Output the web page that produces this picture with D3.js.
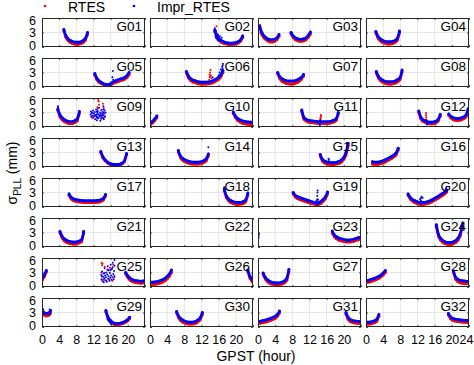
<!DOCTYPE html>
<html><head><meta charset="utf-8">
<script src="https://cdn.jsdelivr.net/npm/d3@7"></script>
<style>body{margin:0;background:#fff} text{font-family:"Liberation Sans",Arial,sans-serif;fill:#000}</style>
</head><body><svg id="c" width="474" height="365"></svg>
<script>
// ---------- data ----------
const satellites = ["G01","G02","G03","G04","G05","G06","G07","G08","G09","G10","G11","G12","G13","G14","G15","G16",
                    "G17","G18","G19","G20","G21","G22","G23","G24","G25","G26","G27","G28","G29","G30","G31","G32"];
const xTicks = [0,4,8,12,16,20,24];
const yTicks = [0,3,6];
const seriesNames = ["RTES","Impr_RTES"];
const step = 0.5; // sampling interval (hour) of the arc values below
// each arc: [startHour, value@start, value@start+0.5h, ...]  (sigma_PLL, mm)
const imprArcs = [
  [[5.1,3.6,2.3,1.7,1.35,1.15,1.0,1.0,1.0,1.1,1.35,1.8,3.0]],
  [[15.1,3.5,2.3,1.7,1.35,1.1,0.95,0.85,0.8,0.8,0.85,0.95,1.15,1.5,2.3]],
  [[0.4,4.3,3.0,2.3,1.9,1.6,1.5,1.5,1.6,1.9,2.6],[7.7,3.0,2.3,1.9,1.7,1.6,1.6,1.7,1.9,2.4,3.1]],
  [[2.3,3.2,2.2,1.7,1.4,1.2,1.1,1.1,1.1,1.2,1.4,1.8,3.3]],
  [[12.3,2.8,1.8,1.3,0.95,0.7,0.55,0.5,0.6,0.9,1.15,1.35,1.5,1.65,1.8,2.0,2.4,3.0]],
  [[8.5,3.2,2.2,1.7,1.45,1.3,1.15,1.05,1.0,1.0,1.0,1.05,1.1,1.25,1.45,1.7,2.0,2.5,3.4]],
  [[4.6,3.0,2.1,1.7,1.45,1.3,1.25,1.25,1.25,1.3,1.45,1.7,2.0,2.6]],
  [[2.4,3.2,2.2,1.7,1.4,1.2,1.1,1.1,1.1,1.15,1.3,1.55,1.9,3.5]],
  [[3.7,3.7,2.5,1.9,1.55,1.3,1.15,1.1,1.15,1.35,1.7,3.2]],
  [[0.1,0.8,1.2,1.7,2.3],[19.4,3.1,2.3,1.8,1.5,1.3,1.2,1.1,1.05,1.0,1.0]],
  [[10.2,3.5,2.0,1.6,1.4,1.3,1.25,1.2,1.15,1.1,1.1,1.1,1.1,1.1,1.15,1.25,1.4,1.7,3.0]],
  [[12.3,3.3,2.0,1.5,1.3,1.1,1.0,1.0,1.05,1.2,1.6,2.6],[19.3,2.7,2.2,1.95,1.8,1.75,1.8,1.9,2.1,2.5,3.8]],
  [[13.7,3.2,2.1,1.5,1.1,0.8,0.6,0.5,0.5,0.5,0.6,0.85,1.3,2.8]],
  [[6.6,3.4,2.3,1.8,1.5,1.3,1.15,1.05,1.0,1.0,1.0,1.05,1.15,1.35,1.7,2.7]],
  [[14.5,2.6,1.6,1.25,1.05,0.95,0.9,0.9,0.95,1.05,1.2,1.5,2.0,3.0,4.9]],
  [[1.5,1.1,1.0,1.0,1.05,1.15,1.3,1.5,1.7,1.95,2.2,2.5,2.9,3.9]],
  [[6.3,2.7,2.0,1.7,1.55,1.45,1.4,1.35,1.3,1.3,1.3,1.3,1.3,1.3,1.35,1.4,1.55,1.8,2.6]],
  [[17.3,3.7,2.3,1.7,1.35,1.15,1.0,0.95,0.95,1.0,1.15,1.5,2.9]],
  [[8.2,3.0,2.4,2.15,1.95,1.8,1.65,1.5,1.35,1.2,1.05,0.9,0.85,0.9,1.2,1.6,2.1,3.1]],
  [[9.8,2.7,2.0,1.6,1.35,1.15,1.0,0.95,0.95,1.0,1.1,1.25,1.45,1.7,1.95,2.2,2.5,2.8,3.1,3.5]],
  [[4.2,3.2,2.2,1.7,1.4,1.2,1.1,1.05,1.05,1.1,1.25,1.5,3.2]],
  [],
  [[17.3,3.3,2.5,2.1,1.85,1.7,1.6,1.5,1.45,1.45,1.5,1.6,1.75,1.9,2.0]],
  [[16.4,4.6,2.6,1.8,1.35,1.1,0.95,0.9,0.95,1.1,1.35,1.8,2.6,4.4]],
  [[0.0,1.7,2.4,3.4],[19.5,3.0,2.3,1.85,1.55,1.4,1.3,1.25,1.2,1.25,1.3]],
  [[0.0,1.0,1.0,1.05,1.1,1.2,1.35,1.55,1.8,2.2,2.7,3.5],[22.8,3.5,2.2,1.5]],
  [[1.2,2.9,2.0,1.5,1.2,1.0,0.9,0.85,0.85,0.9,1.05,1.3,1.8,3.6]],
  [[0.0,1.3,1.4,1.5,1.65,1.8,2.0,2.2,2.5,2.9,3.4],[20.4,3.3,2.0,1.6,1.4,1.3,1.25,1.2,1.2]],
  [[0.0,3.3,3.0,2.8,2.9,3.4],[14.9,3.4,2.0,1.4,1.0,0.8,0.7,0.75,0.85,1.0,1.2,1.5,2.0]],
  [[6.2,3.2,2.2,1.7,1.4,1.2,1.05,1.0,1.0,1.05,1.2,1.5,1.9,3.0]],
  [[0.0,1.1,1.2,1.3,1.4,1.5,1.65,1.8,2.0,2.2,2.6,3.3],[20.5,3.0,2.0,1.55,1.35,1.25,1.2,1.15,1.1]],
  [[0.0,1.0,1.0,1.05,1.15,1.3,1.6,2.6],[19.2,2.8,2.1,1.8,1.65,1.55,1.5,1.45,1.4,1.4,1.35]]
];
const rtesArcs = [
  [[5.1,3.3,1.9,1.3,0.95,0.75,0.6,0.55,0.6,0.7,0.95,1.4,2.6]],
  [[15.1,3.2,2.0,1.4,1.0,0.8,0.65,0.55,0.5,0.5,0.55,0.65,0.85,1.2,2.0]],
  [[0.4,4.0,2.6,1.9,1.5,1.2,1.05,1.05,1.2,1.5,2.2],[7.7,2.7,1.95,1.5,1.3,1.2,1.2,1.3,1.5,2.0,2.7]],
  [[2.3,2.9,1.85,1.3,1.0,0.8,0.65,0.6,0.65,0.75,1.0,1.4,2.9]],
  [[12.3,2.5,1.5,1.0,0.7,0.5,0.35,0.3,0.35,0.6,0.85,1.0,1.15,1.3,1.45,1.65,2.0,2.6]],
  [[8.5,2.9,1.85,1.35,1.05,0.9,0.75,0.65,0.6,0.6,0.6,0.65,0.7,0.85,1.05,1.3,1.6,2.1,3.0]],
  [[4.6,2.7,1.7,1.2,0.95,0.75,0.65,0.6,0.65,0.75,0.9,1.2,1.6,2.2]],
  [[2.4,2.9,1.85,1.3,1.0,0.8,0.65,0.6,0.6,0.7,0.85,1.1,1.5,3.1]],
  [[3.7,3.4,2.1,1.5,1.15,0.9,0.75,0.7,0.75,0.95,1.3,2.8]],
  [[0.1,0.5,0.85,1.3,1.9],[19.4,2.8,1.95,1.4,1.1,0.85,0.7,0.6,0.55,0.5,0.5]],
  [[10.2,3.2,1.65,1.25,1.05,0.95,0.9,0.85,0.8,0.75,0.75,0.75,0.75,0.75,0.8,0.9,1.05,1.35,2.7]],
  [[12.3,3.0,1.65,1.15,0.95,0.75,0.65,0.65,0.7,0.85,1.25,2.2],[19.3,2.4,1.85,1.55,1.4,1.35,1.4,1.5,1.7,2.1,3.4]],
  [[13.7,3.0,1.9,1.3,0.9,0.6,0.45,0.4,0.4,0.4,0.45,0.65,1.1,2.6]],
  [[6.6,3.1,1.95,1.4,1.1,0.9,0.75,0.65,0.6,0.6,0.6,0.65,0.75,0.95,1.3,2.3]],
  [[14.5,2.3,1.25,0.85,0.65,0.55,0.5,0.5,0.55,0.65,0.8,1.1,1.6,2.5,4.5]],
  [[1.5,0.6,0.55,0.55,0.6,0.7,0.85,1.05,1.3,1.55,1.8,2.1,2.5,3.5]],
  [[6.3,2.4,1.65,1.35,1.2,1.1,1.05,1.0,0.95,0.95,0.95,0.95,0.95,0.95,1.0,1.05,1.2,1.45,2.3]],
  [[17.3,3.4,1.95,1.3,0.95,0.75,0.6,0.55,0.55,0.6,0.75,1.1,2.5]],
  [[8.2,2.7,2.05,1.75,1.55,1.4,1.25,1.1,0.95,0.8,0.65,0.55,0.5,0.55,0.8,1.2,1.7,2.7]],
  [[9.8,2.4,1.65,1.25,0.95,0.75,0.6,0.55,0.55,0.6,0.7,0.85,1.05,1.3,1.55,1.8,2.1,2.4,2.7,3.1]],
  [[4.2,2.9,1.85,1.3,1.0,0.8,0.7,0.6,0.6,0.7,0.85,1.1,2.8]],
  [],
  [[17.3,2.9,2.1,1.7,1.45,1.3,1.2,1.1,1.05,1.05,1.1,1.2,1.35,1.5,1.6]],
  [[16.4,4.3,2.2,1.4,0.95,0.7,0.55,0.5,0.55,0.7,0.95,1.4,2.2,4.0]],
  [[0.0,1.4,2.1,3.1],[19.5,2.7,1.95,1.45,1.15,1.0,0.9,0.85,0.8,0.85,0.9]],
  [[0.0,0.5,0.5,0.55,0.6,0.7,0.85,1.05,1.3,1.7,2.2,3.0],[22.8,3.2,1.8,1.1]],
  [[1.2,2.6,1.65,1.1,0.8,0.6,0.5,0.45,0.45,0.5,0.65,0.9,1.4,3.2]],
  [[0.0,0.9,1.0,1.1,1.25,1.4,1.6,1.8,2.1,2.5,3.0],[20.4,3.0,1.6,1.1,0.9,0.8,0.75,0.7,0.7]],
  [[0.0,2.8,2.5,2.3,2.4,2.9],[14.9,3.1,1.7,1.1,0.7,0.5,0.45,0.5,0.6,0.75,0.95,1.25,1.7]],
  [[6.2,2.9,1.85,1.3,1.0,0.8,0.65,0.6,0.6,0.65,0.8,1.1,1.5,2.6]],
  [[0.0,0.7,0.8,0.9,1.0,1.1,1.25,1.4,1.6,1.8,2.2,2.9],[20.5,2.7,1.6,1.15,0.95,0.85,0.8,0.75,0.7]],
  [[0.0,0.6,0.6,0.65,0.75,0.9,1.2,2.2],[19.2,2.5,1.7,1.4,1.25,1.15,1.1,1.05,1.0,1.0,0.95]]
];
// scattered / outlier points [hour, value]
const imprScatter = [
  [],
  [[15.1,3.9],[15.2,3.1],[15.3,2.4],[15.4,3.3],[15.5,2.0],[15.6,2.7],[15.8,1.8],[15.9,2.5],[16.1,1.7],[16.3,2.2],[16.5,1.4],[16.7,1.9],[16.9,1.3],[15.35,1.9],[15.7,1.5],[16.0,1.3]],
  [[0.45,3.6]],
  [],
  [[16.5,3.3],[16.4,2.0],[16.6,1.5]],
  [[16.2,3.0],[16.5,3.6],[16.8,4.2],[17.0,4.8],[16.6,2.8],[16.9,3.9],[16.0,2.4],[16.7,3.2],[16.95,4.5],[16.4,2.5],[14.6,2.0]],
  [],
  [],
  [[3.7,4.3],[3.75,4.0],[11.3,2.6],[11.4,3.2],[11.5,2.2],[11.6,2.9],[11.8,2.4],[11.9,3.4],[12.0,2.0],[12.1,2.8],[12.3,3.1],[12.4,1.6],[12.5,2.5],[12.6,3.6],[12.7,2.2],[12.8,1.4],[12.9,2.9],[13.0,3.3],[13.1,1.8],[13.2,2.6],[13.3,4.0],[13.4,2.1],[13.5,3.0],[13.6,1.3],[13.7,2.7],[13.8,3.5],[13.9,2.3],[14.0,1.9],[14.1,3.1],[14.2,2.5],[14.3,4.3],[14.4,1.6],[14.5,2.8],[14.6,3.4],[14.7,2.2],[14.8,3.0],[12.2,2.3],[13.45,2.4],[12.95,2.0],[14.25,3.0],[11.7,3.0],[13.75,1.7],[12.8,2.0],[12.8,2.6],[12.8,3.2],[14.3,1.8],[14.3,2.4],[14.3,3.6]],
  [],
  [[14.4,0.2],[14.4,0.5],[14.35,0.8],[14.45,1.4],[14.4,1.0]],
  [[14.2,0.5],[14.2,0.9],[14.25,1.3],[14.3,0.7]],
  [],
  [[13.6,4.1]],
  [[16.5,1.5],[16.5,1.2],[16.45,1.7]],
  [],
  [],
  [[17.3,4.1],[17.35,3.9]],
  [[13.8,0.3],[13.8,1.0],[13.8,1.6],[13.8,2.3],[13.85,3.0],[13.9,3.4],[13.6,1.3],[14.0,1.5]],
  [[12.8,0.5],[12.8,1.3],[12.8,1.8],[12.9,2.1],[12.6,1.6],[18.7,4.0],[18.6,3.7],[18.8,3.2],[13.2,1.9]],
  [],
  [],
  [[0.1,2.0],[0.1,2.4],[0.15,2.8],[0.2,2.6],[0.05,2.2]],
  [[16.4,4.2],[16.5,3.4],[16.45,3.9],[22.4,4.8],[22.5,5.1],[22.3,4.6],[16.6,3.0]],
  [[13.8,2.5],[13.9,1.6],[14.0,3.2],[14.1,1.2],[14.2,2.1],[14.3,2.8],[14.4,1.0],[14.5,1.8],[14.6,3.9],[14.7,2.4],[14.8,1.4],[14.9,2.0],[15.0,3.0],[15.1,1.1],[15.2,2.6],[15.3,4.3],[15.4,1.7],[15.5,2.2],[15.6,3.4],[15.7,1.3],[15.8,2.9],[15.9,1.9],[16.0,4.6],[16.1,2.4],[16.2,1.5],[16.3,3.7],[16.4,2.0],[16.5,5.0],[16.6,2.7],[16.7,1.6],[16.8,3.3],[16.9,5.6],[17.0,6.0],[16.9,4.4],[15.35,3.6],[16.45,4.1],[16.0,3.5],[14.55,2.9],[13.95,2.2],[16.85,2.3]],
  [],
  [],
  [],
  [[0.2,2.6],[0.3,3.6],[1.8,3.6],[1.9,2.6],[0.1,3.8],[15.3,1.5],[15.6,1.2],[15.9,0.9],[15.4,2.3],[16.1,0.6],[15.2,2.6],[15.5,1.8]],
  [],
  [],
  []
];
const rtesScatter = [
  [],
  [[15.5,4.3],[15.3,2.2],[15.8,1.6],[16.2,1.4]],
  [[0.5,4.6],[0.45,4.2]],
  [],
  [],
  [[13.9,2.0],[13.9,2.6],[14.0,3.0],[14.1,3.5],[14.2,2.4],[14.3,1.8],[13.8,1.5],[14.05,2.2]],
  [],
  [],
  [[13.2,5.3],[13.3,4.6],[13.1,5.6],[12.9,4.1],[14.2,4.8],[14.4,3.9],[11.8,1.8],[12.3,2.4],[12.7,1.9],[13.6,2.2],[14.0,2.8],[13.0,3.8],[14.6,2.0],[11.5,2.0]],
  [],
  [[14.6,1.5],[14.6,2.0],[14.65,2.5],[14.55,1.8],[14.7,2.3]],
  [[14.0,2.0],[14.0,2.5],[14.05,1.6],[14.0,2.9]],
  [],[],[],[],[],[],
  [[13.8,0.6]],
  [],[],[],
  [[0.1,1.9]],
  [],
  [[13.9,5.0],[14.0,4.5],[14.1,4.8],[13.8,3.0],[14.6,4.2],[15.2,3.5],[15.8,4.0],[16.2,3.8],[16.6,4.6],[13.9,1.5],[14.4,1.5],[15.0,1.3],[15.6,1.6],[16.4,1.3],[16.9,2.0]],
  [],[],[],
  [[23.95,2.7]],
  [],[],[]
];
const seriesColors = ["#ff0000","#0000ff"];

// ---------- layout ----------
const svg = d3.select("#c");
const panelW = 103, panelH = 29, left0 = 42, top0 = 18, colStep = 108, rowStep = 40;
const x = d3.scaleLinear().domain([0,24]).range([0,panelW]);
const y = d3.scaleLinear().domain([0,6]).range([panelH,0]);
const line = d3.line().x(d=>x(d[0])).y(d=>y(d[1])).curve(d3.curveMonotoneX);
const arcPts = a => a.slice(1).map((v,i)=>[a[0]+i*step, v]);
const frameColor = "#262626", gridColor = "#dedede";

const panels = satellites.map((name,i)=>{
  const col = i%4, row = Math.floor(i/4);
  const g = svg.append("g").attr("transform",`translate(${left0+col*colStep},${top0+row*rowStep})`);
  g.append("clipPath").attr("id","cp"+i).append("rect").attr("width",panelW).attr("height",panelH);
  g.selectAll(".gx").data(xTicks.slice(1,-1)).join("line")
    .attr("x1",d=>x(d)).attr("x2",d=>x(d)).attr("y1",0).attr("y2",panelH)
    .attr("stroke",gridColor).attr("stroke-width",0.8);
  g.selectAll(".gy").data(yTicks.slice(1,-1)).join("line")
    .attr("y1",d=>y(d)).attr("y2",d=>y(d)).attr("x1",0).attr("x2",panelW)
    .attr("stroke",gridColor).attr("stroke-width",0.8);
  const plot = g.append("g").attr("clip-path",`url(#cp${i})`);
  return {g, plot, col, row, name, i};
});

function drawSeries(arcs, scatter, color){
  panels.forEach(p=>{
    const set = arcs[p.i].map(arcPts);
    p.plot.selectAll(null).data(set).join("path")
      .attr("d",line).attr("fill","none").attr("stroke",color)
      .attr("stroke-width",2.6).attr("stroke-linecap","round").attr("stroke-linejoin","round");
    p.plot.selectAll(null).data(set.flat()).join("circle")
      .attr("cx",d=>x(d[0])).attr("cy",d=>y(d[1])).attr("r",1.5).attr("fill",color);
    p.plot.selectAll(null).data(scatter[p.i]).join("circle")
      .attr("cx",d=>x(d[0])).attr("cy",d=>y(d[1])).attr("r",1.0).attr("fill",color);
  });
}
drawSeries(rtesArcs, rtesScatter, seriesColors[0]);
drawSeries(imprArcs, imprScatter, seriesColors[1]);

panels.forEach(p=>{
  const g = p.g;
  const styleAxis = a => { a.select(".domain").remove(); a.selectAll(".tick line").attr("stroke",frameColor).attr("stroke-width",0.8);
    a.selectAll("text").style("font-size","12.5px").style("font-family","'Liberation Sans',Arial,sans-serif").attr("fill","#000"); };
  const xFmt = d => (p.row===7 && (d<24 || p.col===3)) ? String(d) : "";
  g.append("g").attr("transform",`translate(0,${panelH})`)
    .call(d3.axisBottom(x).tickValues(xTicks).tickSize(-2).tickPadding(8).tickFormat(xFmt))
    .call(styleAxis)
    .call(a => a.selectAll("text").filter(d => d===24).attr("text-anchor","end").attr("x",4));
  g.append("g").call(d3.axisTop(x).tickValues(xTicks).tickSize(-2).tickFormat("")).call(styleAxis);
  g.append("g").call(d3.axisLeft(y).tickValues(yTicks).tickSize(-2).tickPadding(6).tickFormat(p.col===0? d3.format("d") : ""))
    .call(styleAxis)
    .call(a => a.selectAll("text").attr("dy", d => d===6 ? "0.5em" : d===0 ? "0.22em" : "0.34em"));
  g.append("g").attr("transform",`translate(${panelW},0)`)
    .call(d3.axisRight(y).tickValues(yTicks).tickSize(-2).tickFormat("")).call(styleAxis);
  g.append("rect").attr("x",0.5).attr("y",0.5).attr("width",panelW-1).attr("height",panelH-1)
    .attr("fill","none").attr("stroke",frameColor).attr("stroke-width",1);
  g.append("text").attr("x",panelW-3).attr("y",13).attr("text-anchor","end")
    .style("font-size","13.5px").text(p.name);
});

// axis titles
svg.append("text").attr("x",256).attr("y",361).attr("text-anchor","middle").style("font-size","14px").text("GPST (hour)");
const yl = svg.append("text").attr("transform","translate(17,173) rotate(-90)").attr("text-anchor","middle").style("font-size","14px");
yl.append("tspan").text("σ");
yl.append("tspan").attr("dy",4).style("font-size","10px").text("PLL");
yl.append("tspan").attr("dy",-4).text(" (mm)");

// legend
const leg = svg.append("g");
const legX = [45,134], legTextX = [68,157];
seriesNames.forEach((s,k)=>{
  leg.append("circle").attr("cx",legX[k]).attr("cy",6).attr("r",1.3).attr("fill",seriesColors[k]);
  leg.append("text").attr("x",legTextX[k]).attr("y",12).style("font-size","14px").text(s);
});
</script></body></html>
